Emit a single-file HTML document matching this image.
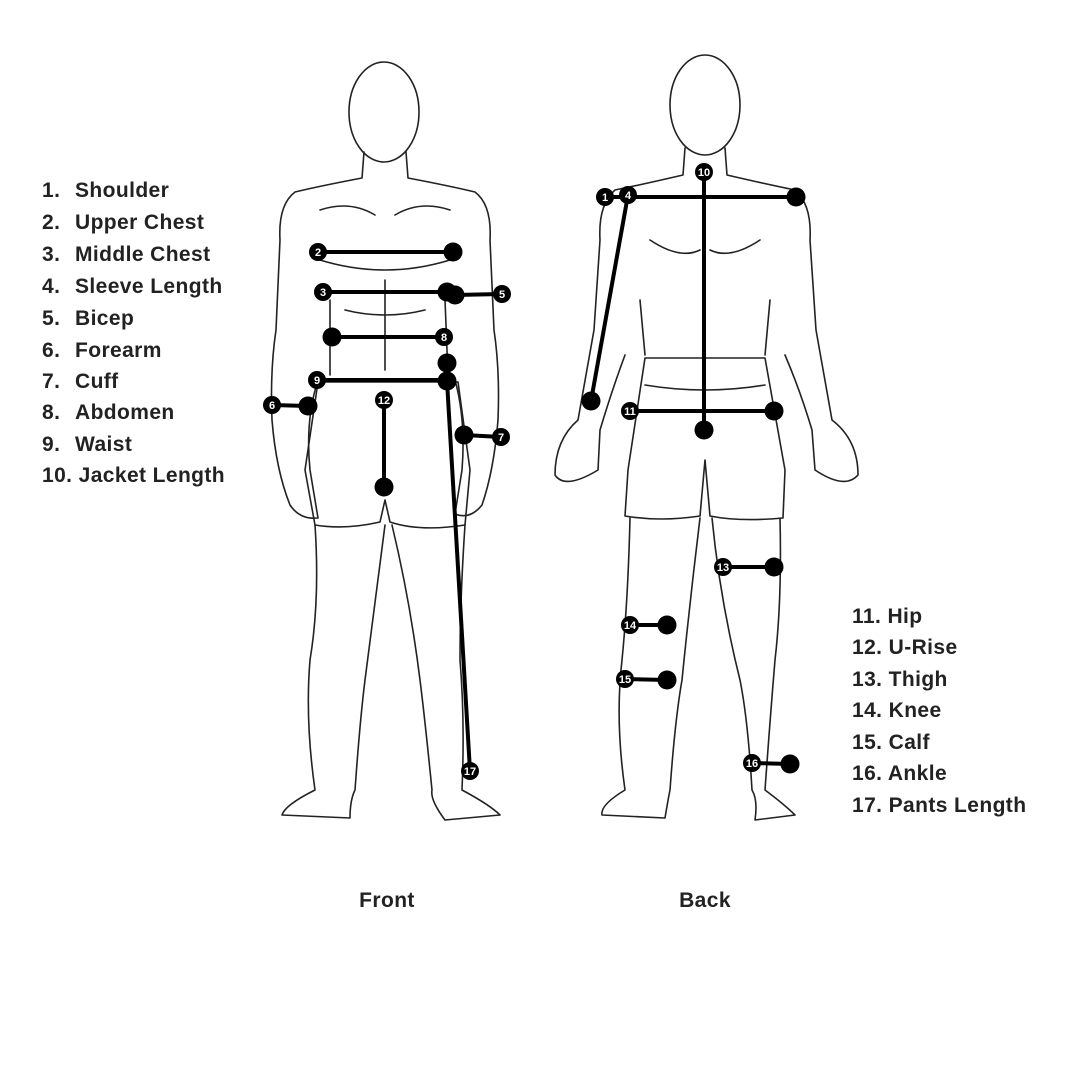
<!DOCTYPE html>
<html><head><meta charset="utf-8"><style>
html,body{margin:0;padding:0;background:#fff;}
svg{display:block}
.leg{font-family:"Liberation Sans",sans-serif;font-weight:bold;font-size:21px;fill:#222;letter-spacing:0.4px}
.b{fill:none;stroke:#222;stroke-width:1.6;stroke-linejoin:round;stroke-linecap:round}
.m{stroke:#000;stroke-width:4;stroke-linecap:round}
.n{font-family:"Liberation Sans",sans-serif;font-weight:bold;font-size:11px;fill:#fff;text-anchor:middle}
</style></head><body>
<svg width="1080" height="1080" viewBox="0 0 1080 1080">
<rect width="1080" height="1080" fill="#fff"/>
<g class="leg">
<text x="42" y="197">1.</text><text x="75" y="197">Shoulder</text>
<text x="42" y="229">2.</text><text x="75" y="229">Upper Chest</text>
<text x="42" y="261">3.</text><text x="75" y="261">Middle Chest</text>
<text x="42" y="293">4.</text><text x="75" y="293">Sleeve Length</text>
<text x="42" y="325">5.</text><text x="75" y="325">Bicep</text>
<text x="42" y="357">6.</text><text x="75" y="357">Forearm</text>
<text x="42" y="388">7.</text><text x="75" y="388">Cuff</text>
<text x="42" y="419">8.</text><text x="75" y="419">Abdomen</text>
<text x="42" y="451">9.</text><text x="75" y="451">Waist</text>
<text x="42" y="482">10. Jacket Length</text>
<text x="852" y="623">11. Hip</text>
<text x="852" y="654">12. U-Rise</text>
<text x="852" y="686">13. Thigh</text>
<text x="852" y="717">14. Knee</text>
<text x="852" y="749">15. Calf</text>
<text x="852" y="780">16. Ankle</text>
<text x="852" y="812">17. Pants Length</text>
<text x="387" y="907" text-anchor="middle">Front</text>
<text x="705" y="907" text-anchor="middle">Back</text>
</g>
<g class="b">
<ellipse cx="384" cy="112" rx="35" ry="50"/>
<path d="M364 152 L362 178 Q320 186 295 192 Q278 205 280 240 L276 330 Q270 370 272 420 Q276 470 290 505 Q300 520 318 518 L310 470 Q305 420 318 380"/>
<path d="M406 152 L408 178 Q450 186 475 192 Q492 205 490 240 L494 330 Q500 370 498 420 Q494 470 482 505 Q470 520 455 514 L462 470 Q466 420 455 380"/>
<path d="M320 260 Q385 280 450 260 M330 300 L330 375 M445 300 L448 375 M320 210 Q350 200 375 215 M395 215 Q420 200 450 210 M345 310 Q385 320 425 310 M385 280 L385 370"/>
<path d="M318 382 L458 382 L470 470 L465 525 Q420 532 390 522 L385 500 L380 522 Q345 530 315 525 L305 470 Z"/>
<path d="M315 525 Q320 600 310 660 Q305 720 315 790 Q285 805 282 815 L350 818 Q350 800 355 790 Q360 720 365 680 Q375 600 385 525"/>
<path d="M465 525 Q460 600 460 660 Q465 720 462 790 Q490 805 500 815 L445 820 Q430 800 432 790 Q425 720 420 680 Q410 600 392 525"/>
</g>
<g class="b">
<ellipse cx="705" cy="105" rx="35" ry="50"/>
<path d="M685 148 L683 175 Q640 185 615 190 Q598 205 600 240 L594 330 Q585 380 578 420 Q555 440 555 475 Q565 490 598 470 L600 430 Q612 390 625 355"/>
<path d="M725 148 L727 175 Q770 185 795 190 Q812 205 810 240 L816 330 Q825 380 832 420 Q858 440 858 475 Q845 490 815 470 L812 430 Q800 390 785 355"/>
<path d="M640 300 L645 355 M770 300 L765 355 M650 240 Q680 260 700 250 M710 250 Q730 260 760 240"/>
<path d="M645 358 L765 358 L785 470 L783 518 Q740 522 710 516 L705 460 L700 516 Q660 522 625 516 L628 470 Z M645 385 Q705 395 765 385"/>
<path d="M630 518 Q628 600 622 660 Q615 720 625 790 Q600 805 602 815 L665 818 Q668 800 670 790 Q675 720 682 680 Q690 600 700 518"/>
<path d="M780 518 Q782 600 775 660 Q770 720 765 790 Q785 805 795 815 L755 820 Q758 800 752 790 Q748 720 740 680 Q720 600 712 518"/>
</g>
<g class="m">
<line x1="318" y1="252" x2="453" y2="252"/>
<line x1="323" y1="292" x2="447" y2="292"/>
<line x1="455" y1="295" x2="502" y2="294"/>
<line x1="332" y1="337" x2="444" y2="337"/>
<line x1="317" y1="380" x2="447" y2="380"/>
<line x1="272" y1="405" x2="308" y2="406"/>
<line x1="464" y1="435" x2="501" y2="437"/>
<line x1="384" y1="400" x2="384" y2="487"/>
<line x1="447" y1="381" x2="470" y2="771"/>
<line x1="704" y1="172" x2="704" y2="430"/>
<line x1="605" y1="197" x2="796" y2="197"/>
<line x1="628" y1="195" x2="591" y2="401"/>
<line x1="630" y1="411" x2="774" y2="411"/>
<line x1="723" y1="567" x2="774" y2="567"/>
<line x1="630" y1="625" x2="667" y2="625"/>
<line x1="625" y1="679" x2="667" y2="680"/>
<line x1="752" y1="763" x2="790" y2="764"/>
</g>
<g fill="#000">
<circle cx="453" cy="252" r="9.5"/><circle cx="447" cy="292" r="9.5"/><circle cx="455" cy="295" r="9.5"/>
<circle cx="332" cy="337" r="9.5"/><circle cx="447" cy="363" r="9.5"/><circle cx="447" cy="381" r="9.5"/>
<circle cx="308" cy="406" r="9.5"/><circle cx="464" cy="435" r="9.5"/><circle cx="384" cy="487" r="9.5"/>
<circle cx="796" cy="197" r="9.5"/><circle cx="591" cy="401" r="9.5"/><circle cx="704" cy="430" r="9.5"/>
<circle cx="774" cy="411" r="9.5"/><circle cx="774" cy="567" r="9.5"/><circle cx="667" cy="625" r="9.5"/>
<circle cx="667" cy="680" r="9.5"/><circle cx="790" cy="764" r="9.5"/>
<circle cx="318" cy="252" r="9"/><circle cx="323" cy="292" r="9"/><circle cx="502" cy="294" r="9"/>
<circle cx="444" cy="337" r="9"/><circle cx="317" cy="380" r="9"/><circle cx="272" cy="405" r="9"/>
<circle cx="501" cy="437" r="9"/><circle cx="384" cy="400" r="9"/><circle cx="470" cy="771" r="9"/>
<circle cx="704" cy="172" r="9"/><circle cx="605" cy="197" r="9"/><circle cx="628" cy="195" r="9"/>
<circle cx="630" cy="411" r="9"/><circle cx="723" cy="567" r="9"/><circle cx="630" cy="625" r="9"/>
<circle cx="625" cy="679" r="9"/><circle cx="752" cy="763" r="9"/>
</g>
<g class="n">
<text x="318" y="256">2</text><text x="323" y="296">3</text><text x="502" y="298">5</text>
<text x="444" y="341">8</text><text x="317" y="384">9</text><text x="272" y="409">6</text>
<text x="501" y="441">7</text><text x="384" y="404">12</text><text x="470" y="775">17</text>
<text x="704" y="176">10</text><text x="605" y="201">1</text><text x="628" y="199">4</text>
<text x="630" y="415">11</text><text x="723" y="571">13</text><text x="630" y="629">14</text>
<text x="625" y="683">15</text><text x="752" y="767">16</text>
</g>
</svg>
</body></html>
